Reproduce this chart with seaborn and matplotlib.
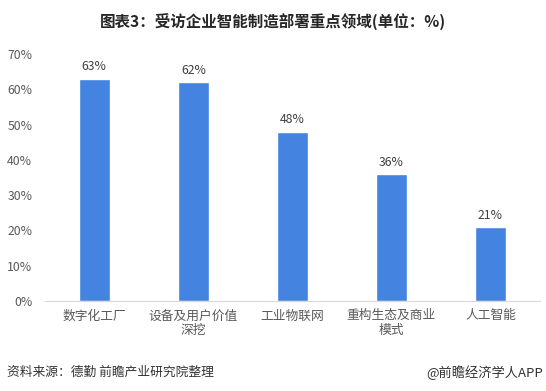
import matplotlib
matplotlib.use("Agg")
import matplotlib.pyplot as plt
import seaborn as sns
import pandas as pd

categories = ["数字化工厂", "设备及用户价值\n深挖", "工业物联网", "重构生态及商业\n模式", "人工智能"]
values = [63, 62, 48, 36, 21]
yticks = [0, 10, 20, 30, 40, 50, 60, 70]

sns.set_theme(style="white")
plt.rcParams['font.family'] = ['Noto Sans CJK SC', 'DejaVu Sans']

df = pd.DataFrame({"cat": categories, "val": values})

fig = plt.figure(figsize=(5.46, 3.91), dpi=100)
ax = fig.add_axes([0.082, 0.230, 0.907, 0.632])
sns.barplot(data=df, x="cat", y="val", color="#4483df", width=0.31, saturation=1, ax=ax)

ax.set_ylim(0, 70)
ax.set_yticks(yticks)
ax.set_yticklabels([f"{t}%" for t in yticks], fontsize=8.8, color="#595959")
ax.tick_params(axis='x', labelsize=9.2, colors="#595959", length=0, pad=6)
ax.tick_params(axis='y', length=0, pad=9)
ax.set_xlabel("")
ax.set_ylabel("")
for s in ["top", "right", "left"]:
    ax.spines[s].set_visible(False)
ax.spines["bottom"].set_color("#d9d9d9")
ax.spines["bottom"].set_linewidth(0.8)

for i, v in enumerate(values):
    ax.text(i, v + 1.5, f"{v}%", ha="center", va="bottom", fontsize=8.8, color="#404040")

fig.text(0.5, 0.945, "图表3：受访企业智能制造部署重点领域(单位：%)", ha="center", va="center",
         fontsize=11.2, fontweight="bold", color="#262626")
fig.text(0.012, 0.048, "资料来源：德勤 前瞻产业研究院整理", ha="left", va="center", fontsize=9.2, color="#333333")
fig.text(0.995, 0.048, "@前瞻经济学人APP", ha="right", va="center", fontsize=9.5, color="#333333")

fig.savefig("out.png", dpi=100)
